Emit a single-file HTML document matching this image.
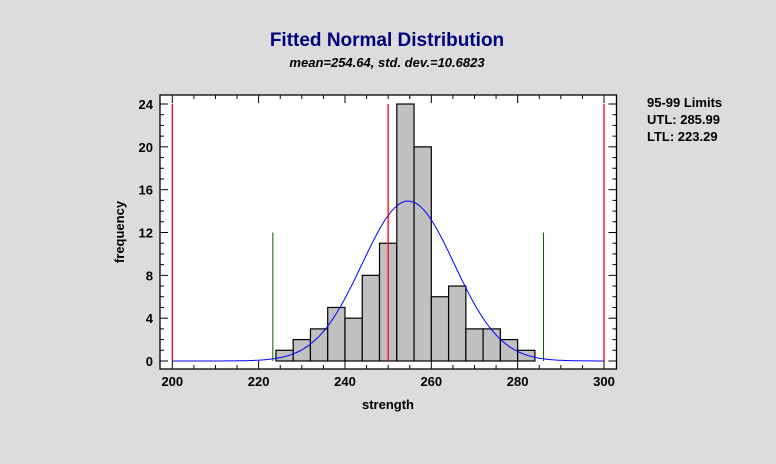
<!DOCTYPE html>
<html><head><style>body{margin:0;background:#dcdcdc}svg{display:block}text{font-family:"Liberation Sans",Arial,sans-serif;font-weight:bold}</style></head>
<body>
<svg id="s" width="776" height="464" xmlns="http://www.w3.org/2000/svg">
<rect width="776" height="464" fill="#dcdcdc"/>
<text x="387" y="46" text-anchor="middle" font-size="19" fill="#000080">Fitted Normal Distribution</text>
<text x="387" y="67" text-anchor="middle" font-size="13" font-style="italic">mean=254.64, std. dev.=10.6823</text>
<rect x="160" y="95" width="456.5" height="274" fill="#fff" stroke="#000" stroke-width="1.3"/>
<g id="g"></g>
<text x="388" y="409" text-anchor="middle" font-size="13">strength</text>
<text transform="translate(124,232) rotate(-90)" text-anchor="middle" font-size="13">frequency</text>
<text x="647" y="107" font-size="13">95-99 Limits</text>
<text x="647" y="124" font-size="13">UTL: 285.99</text>
<text x="647" y="141" font-size="13">LTL: 223.29</text>
</svg>
<script>
var X=v=>172.3+(v-200)*4.317,Y=v=>361-v*10.708,h='';
var c=[1,2,3,5,4,8,11,24,20,6,7,3,3,2,1];
c.forEach((n,i)=>{var a=X(224+4*i);h+=`<rect x="${a}" y="${Y(n)}" width="${4*4.317}" height="${n*10.708}" fill="#c0c0c0" stroke="#000" stroke-width="1.2"/>`;});
var p='';for(var v=200;v<=300;v+=0.5){var y=400/(10.6823*Math.sqrt(2*Math.PI))*Math.exp(-Math.pow(v-254.64,2)/(2*10.6823*10.6823));p+=(v==200?'M':'L')+X(v).toFixed(1)+','+Y(y).toFixed(1);}
h+=`<path d="${p}" fill="none" stroke="#0000ff" stroke-width="1"/>`;
[200,250,300].forEach(v=>h+=`<line x1="${X(v)}" x2="${X(v)}" y1="${Y(0)}" y2="${Y(24)}" stroke="#ff0000" stroke-width="1.3"/>`);
[223.29,285.99].forEach(v=>h+=`<line x1="${X(v)}" x2="${X(v)}" y1="${Y(0)}" y2="${Y(12)}" stroke="#006400" stroke-width="1"/>`);
for(var k=0;k<=25;k++){var y=Y(k);if(y<95)break;var L=k%4==0?8:4;h+=`<line x1="160" x2="${160+L}" y1="${y}" y2="${y}" stroke="#000"/><line x1="${616.5-L}" x2="616.5" y1="${y}" y2="${y}" stroke="#000"/>`;if(k%4==0)h+=`<text x="153" y="${y+5}" text-anchor="end" font-size="13">${k}</text>`;}
for(var v=200;v<=300;v+=5){var x=X(v),L=v%20==0?8:4;h+=`<line x1="${x}" x2="${x}" y1="369" y2="${369-L}" stroke="#000"/><line x1="${x}" x2="${x}" y1="95" y2="${95+L}" stroke="#000"/>`;if(v%20==0)h+=`<text x="${x}" y="386" text-anchor="middle" font-size="13">${v}</text>`;}
document.getElementById('g').innerHTML=h;
</script>
</body></html>
